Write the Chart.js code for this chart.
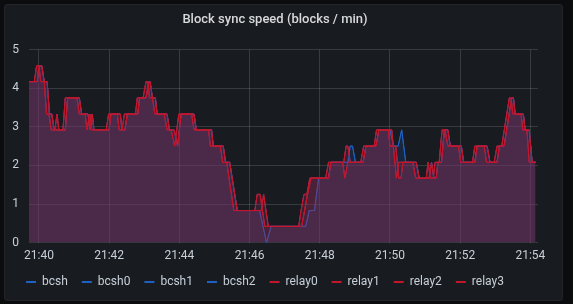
<!DOCTYPE html>
<html>
<head>
<meta charset="utf-8">
<script src="https://cdn.jsdelivr.net/npm/chart.js@4/dist/chart.umd.min.js"></script>
<style>
  html, body { margin: 0; padding: 0; background: #0b0c0e; }
  body { width: 573px; height: 304px; position: relative; overflow: hidden; }
  .panel {
    position: absolute; left: 4px; top: 4px; width: 557px; height: 295px;
    background: #181b1f; border: 1px solid #222429; border-radius: 3px;
  }
  canvas { position: absolute; left: 0; top: 0; }
</style>
</head>
<body>
<div class="panel"></div>
<canvas id="chart" width="573" height="304"></canvas>
<script>
// 時刻は 21:40:00 からの秒数
const seriesNames = ['bcsh', 'bcsh0', 'bcsh1', 'bcsh2', 'relay0', 'relay1', 'relay2', 'relay3'];

// 先行している線 (relay0 など)
const leadTimes = [
  -17, -8, -4, 0, 3, 9, 13, 17, 21, 27,
  31, 34, 41, 45, 65, 69, 79, 82, 87, 90,
  115, 119, 134, 137, 142, 146, 165, 168, 178, 183,
  186, 189, 194, 198, 214, 219, 226, 232, 239, 261,
  265, 290, 293, 310, 314, 321, 333, 369, 373, 378,
  386, 444, 448, 453, 458, 463, 490, 495, 521, 525,
  528, 532, 550, 555, 573, 577, 597, 600, 610, 615,
  619, 622, 639, 644, 662, 665, 669, 674, 677, 684,
  689, 694, 699, 717, 721, 741, 745, 761, 765, 778,
  783, 791, 804, 807, 810, 824, 827, 834, 838, 849
];
const leadValues = [
  4.17, 4.17, 4.58, 4.58, 4.17, 4.17, 3.33, 3.33, 2.92, 2.92,
  3.33, 2.92, 2.92, 3.75, 3.75, 3.33, 3.33, 2.92, 3.33, 2.92,
  2.92, 3.33, 3.33, 2.92, 2.92, 3.33, 3.33, 3.75, 3.75, 4.17,
  4.17, 3.75, 3.75, 3.33, 3.33, 2.92, 2.92, 2.5, 3.33, 3.33,
  2.92, 2.92, 2.5, 2.5, 2.08, 2.08, 0.83, 0.83, 1.25, 1.25,
  0.42, 0.42, 0.83, 1.25, 1.25, 1.67, 1.67, 2.08, 2.08, 2.5,
  2.5, 2.08, 2.08, 2.5, 2.5, 2.92, 2.92, 2.5, 2.5, 1.67,
  1.67, 2.08, 2.08, 1.67, 1.67, 2.08, 1.67, 1.67, 2.08, 2.08,
  2.92, 2.92, 2.5, 2.5, 2.08, 2.08, 2.5, 2.5, 2.08, 2.08,
  2.5, 2.5, 3.75, 3.75, 3.33, 3.33, 2.92, 2.92, 2.08, 2.08
];

// 数秒遅れている線 (relay1 など)
const lagTimes = [
  -17, -3, 0, 5, 9, 14, 18, 22, 26, 45,
  49, 69, 73, 84, 87, 91, 94, 120, 123, 139,
  142, 147, 151, 169, 172, 183, 188, 190, 194, 199,
  202, 219, 223, 231, 237, 243, 265, 269, 295, 298,
  315, 319, 326, 339, 380, 384, 392, 449, 454, 459,
  465, 495, 499, 519, 523, 528, 554, 559, 576, 581,
  603, 611, 615, 645, 650, 667, 671, 675, 679, 682,
  688, 693, 699, 703, 722, 726, 745, 749, 766, 771,
  783, 787, 795, 808, 811, 814, 828, 831, 838, 843,
  849
];
const lagValues = [
  4.17, 4.17, 4.58, 4.58, 4.17, 4.17, 3.33, 3.33, 2.92, 2.92,
  3.75, 3.75, 3.33, 3.33, 2.92, 3.33, 2.92, 2.92, 3.33, 3.33,
  2.92, 2.92, 3.33, 3.33, 3.75, 3.75, 4.17, 4.17, 3.75, 3.75,
  3.33, 3.33, 2.92, 2.92, 2.5, 3.33, 3.33, 2.92, 2.92, 2.5,
  2.5, 2.08, 2.08, 0.83, 0.83, 1.25, 0.42, 0.42, 0.83, 1.25,
  1.67, 1.67, 2.08, 2.08, 1.67, 2.08, 2.08, 2.5, 2.5, 2.92,
  2.92, 1.67, 2.08, 2.08, 1.67, 1.67, 2.08, 1.67, 1.67, 2.08,
  2.08, 2.92, 2.92, 2.5, 2.5, 2.08, 2.08, 2.5, 2.5, 2.08,
  2.08, 2.5, 2.5, 3.75, 3.75, 3.33, 3.33, 2.92, 2.92, 2.08,
  2.08
];

// bcsh 系で赤い線からはみ出している部分
const blueTimes = [
  -17, -3, 0, 5, 9, 14, 18, 22, 26, 45,
  49, 69, 73, 84, 87, 91, 94, 120, 123, 139,
  142, 147, 151, 169, 172, 183, 188, 190, 194, 199,
  202, 219, 223, 231, 237, 243, 265, 269, 295, 298,
  315, 319, 326, 339, 377, 389, 397, 456, 462, 471,
  478, 495, 499, 528, 532, 536, 541, 554, 559, 576,
  581, 600, 606, 614, 620, 627, 645, 650, 667, 671,
  675, 679, 682, 688, 693, 699, 703, 722, 726, 745,
  749, 766, 771, 783, 787, 795, 808, 811, 814, 828,
  831, 838, 843, 849
];
const blueValues = [
  4.17, 4.17, 4.58, 4.58, 4.17, 4.17, 3.33, 3.33, 2.92, 2.92,
  3.75, 3.75, 3.33, 3.33, 2.92, 3.33, 2.92, 2.92, 3.33, 3.33,
  2.92, 2.92, 3.33, 3.33, 3.75, 3.75, 4.17, 4.17, 3.75, 3.75,
  3.33, 3.33, 2.92, 2.92, 2.5, 3.33, 3.33, 2.92, 2.92, 2.5,
  2.5, 2.08, 2.08, 0.83, 0.83, 0, 0.42, 0.42, 0.83, 0.83,
  1.67, 1.67, 2.08, 2.08, 2.5, 2.5, 2.08, 2.08, 2.5, 2.5,
  2.92, 2.92, 2.5, 2.5, 2.92, 2.08, 2.08, 1.67, 1.67, 2.08,
  1.67, 1.67, 2.08, 2.08, 2.92, 2.92, 2.5, 2.5, 2.08, 2.08,
  2.5, 2.5, 2.08, 2.08, 2.5, 2.5, 3.75, 3.75, 3.33, 3.33,
  2.92, 2.92, 2.08, 2.08
];

// 各系列がどの線を使うか
const seriesSource = {
  bcsh: 'blue', bcsh0: 'lead', bcsh1: 'blue', bcsh2: 'lag',
  relay0: 'lead', relay1: 'lag', relay2: 'lead', relay3: 'lag'
};

const BLUE = '#1F60C4';
const RED = '#C4162A';
const TEXT = '#c7d0d9';

function toPoints(times, values) {
  return times.map((t, i) => ({ x: t, y: values[i] }));
}

const sources = {
  lead: toPoints(leadTimes, leadValues),
  lag: toPoints(lagTimes, lagValues),
  blue: toPoints(blueTimes, blueValues)
};

function fmtTime(sec) {
  const m = 40 + Math.round(sec / 60);
  return '21:' + String(m).padStart(2, '0');
}

const datasets = seriesNames.map(name => {
  const isRelay = name.startsWith('relay');
  const color = isRelay ? RED : BLUE;
  return {
    label: name,
    data: sources[seriesSource[name]],
    borderColor: color,
    backgroundColor: isRelay ? 'rgba(196, 22, 42, 0.085)' : 'rgba(31, 96, 196, 0.1)',
    borderWidth: 1,
    fill: 'origin',
    tension: 0,
    pointRadius: 0,
    order: isRelay ? 0 : 1 // 赤を上に描く
  };
});

Chart.defaults.font.family = 'Roboto, "Noto Sans", sans-serif';
Chart.defaults.animation = false;

new Chart(document.getElementById('chart'), {
  type: 'line',
  data: { datasets },
  options: {
    responsive: false,
    layout: { padding: { left: 12, right: 35, top: 0, bottom: 6 } },
    scales: {
      x: {
        type: 'linear',
        min: -17,
        max: 853,
        grid: { color: 'rgba(255, 255, 255, 0.14)', drawTicks: false },
        border: { display: false },
        afterFit: s => { s.height -= 7; }, // 凡例との間隔を詰める
        ticks: {
          stepSize: 120,
          includeBounds: false,
          maxRotation: 0,
          autoSkip: false,
          padding: 6,
          color: TEXT,
          font: { size: 12 },
          callback: v => fmtTime(v)
        }
      },
      y: {
        min: 0,
        max: 5,
        grid: { color: 'rgba(255, 255, 255, 0.14)', drawTicks: false },
        border: { display: false },
        afterFit: s => { s.width = 17; },
        ticks: {
          stepSize: 1,
          padding: 10,
          color: TEXT,
          font: { size: 12 }
        }
      }
    },
    plugins: {
      title: {
        display: true,
        text: 'Block sync speed (blocks / min)',
        color: '#d8d9da',
        font: { size: 13, weight: '500' },
        padding: { top: 12, bottom: 22 }
      },
      legend: {
        position: 'bottom',
        align: 'start',
        labels: {
          color: TEXT,
          font: { size: 12 },
          usePointStyle: true,
          pointStyle: 'line',
          pointStyleWidth: 10,
          padding: 14,
          sort: (a, b) => a.datasetIndex - b.datasetIndex,
          generateLabels: chart => {
            const items = Chart.defaults.plugins.legend.labels.generateLabels(chart);
            items.forEach(it => { it.lineWidth = 2; });
            return items;
          }
        }
      },
      tooltip: { enabled: false }
    }
  }
});
</script>
</body>
</html>
